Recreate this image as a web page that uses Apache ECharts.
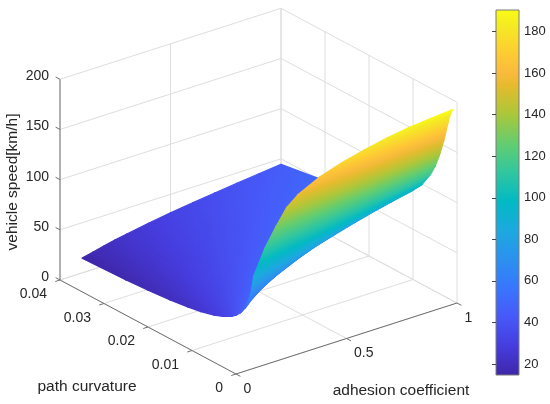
<!DOCTYPE html>
<html>
<head>
<meta charset="utf-8">
<script src="https://cdn.jsdelivr.net/npm/echarts@6/dist/echarts.min.js"></script>
<style>html,body{margin:0;padding:0;background:#fff;}#chart{width:550px;height:404px;}</style>
</head>
<body>
<div id="chart"></div>
<script>
// ---------------- data ----------------
const ADHESION = [0.1, 0.15, 0.2, 0.25, 0.3, 0.4, 0.5, 0.6, 0.7, 0.8, 0.9, 1.0];
const CURVATURE = [0.001, 0.0015, 0.002, 0.003, 0.004, 0.005, 0.006, 0.008, 0.01, 0.013, 0.016, 0.02, 0.025, 0.03, 0.04];
// vehicle speed [km/h]; one row per curvature, one column per adhesion
const SPEED = [
  [88.0, 112.0, 130.0, 146.0, 155.0, 166.0, 173.0, 178.5, 183.0, 186.5, 188.5, 190.4],
  [72.7, 91.0, 106.0, 120.0, 130.0, 146.0, 157.0, 165.5, 172.5, 177.9, 182.0, 184.8],
  [62.9, 77.8, 90.5, 101.5, 111.0, 126.5, 139.0, 149.0, 157.6, 164.9, 170.8, 175.5],
  [51.4, 62.9, 72.7, 81.2, 88.9, 102.4, 114.2, 124.4, 133.4, 141.4, 148.6, 154.8],
  [44.5, 54.5, 62.9, 70.4, 77.1, 88.9, 99.2, 108.5, 116.8, 124.4, 131.3, 137.6],
  [39.8, 48.8, 56.3, 62.9, 68.9, 79.6, 88.9, 97.3, 105.0, 112.0, 118.4, 124.4],
  [36.3, 44.5, 51.4, 57.5, 62.9, 72.7, 81.2, 88.9, 95.9, 102.4, 108.5, 114.2],
  [31.5, 38.5, 44.5, 49.8, 54.5, 62.9, 70.4, 77.1, 83.3, 88.9, 94.2, 99.2],
  [28.1, 34.5, 39.8, 44.5, 48.8, 56.3, 62.9, 68.9, 74.5, 79.6, 84.4, 88.9],
  [24.7, 30.2, 34.9, 39.0, 42.8, 49.4, 55.2, 60.5, 65.3, 69.8, 74.1, 78.1],
  [22.3, 27.3, 31.5, 35.2, 38.5, 44.5, 49.8, 54.5, 58.9, 62.9, 66.8, 70.4],
  [19.9, 24.4, 28.1, 31.5, 34.5, 39.8, 44.5, 48.8, 52.7, 56.3, 59.7, 62.9],
  [17.8, 21.8, 25.2, 28.1, 30.8, 35.6, 39.8, 43.6, 47.1, 50.4, 53.4, 56.3],
  [16.3, 19.9, 23.0, 25.7, 28.2, 32.5, 36.3, 39.8, 43.0, 46.0, 48.8, 51.4],
  [14.7, 17.2, 19.9, 22.3, 24.4, 28.1, 31.5, 34.5, 37.2, 39.8, 42.2, 44.5]
];
const ADHESION_TICKS = [0, 0.5, 1];
const CURVATURE_TICKS = [0, 0.01, 0.02, 0.03, 0.04];
const SPEED_TICKS = [0, 50, 100, 150, 200];
const COLORBAR_TICKS = [20, 40, 60, 80, 100, 120, 140, 160, 180];
const ADHESION_RANGE = [0, 1];
const CURVATURE_RANGE = [0, 0.04];
const SPEED_RANGE = [0, 200];
const COLOR_RANGE = [14.7, 190.4];
const X_TITLE = 'adhesion coefficient';
const Y_TITLE = 'path curvature';
const Z_TITLE = 'vehicle speed[km/h]';

// ---------------- style / view ----------------
const FONT = 'Liberation Sans, Arial, Helvetica, sans-serif';
const TEXT_COLOR = '#262626';
const GRID_COLOR = '#dedede';
const AXIS_COLOR = '#707070';
// orthographic view: projected unit-box edge vectors (view plane units) and depth direction
const VIEW = { ex: [221, 71], ek: [-176, 94], ez: [0, 200.7], depth: [-0.558, -0.738, 0.326] };
const PARULA = [
  [0, '#3e26a8'], [5/63, '#463cde'], [10/63, '#4758f8'], [15/63, '#3875fe'],
  [20/63, '#2b91ef'], [25/63, '#1ca9df'], [30/63, '#02bac3'], [35/63, '#31c69f'],
  [40/63, '#64cd6f'], [45/63, '#abc739'], [50/63, '#e6bb2d'], [52/63, '#f8ba3d'],
  [55/63, '#fec934'], [60/63, '#f5e924'], [1, '#f9fb15']
];

function toBox(a, k, z) {
  return [
    (a - ADHESION_RANGE[0]) / (ADHESION_RANGE[1] - ADHESION_RANGE[0]),
    (k - CURVATURE_RANGE[0]) / (CURVATURE_RANGE[1] - CURVATURE_RANGE[0]),
    (z - SPEED_RANGE[0]) / (SPEED_RANGE[1] - SPEED_RANGE[0])
  ];
}
function project(a, k, z) {
  const b = toBox(a, k, z);
  return [
    b[0] * VIEW.ex[0] + b[1] * VIEW.ek[0] + b[2] * VIEW.ez[0],
    b[0] * VIEW.ex[1] + b[1] * VIEW.ek[1] + b[2] * VIEW.ez[1]
  ];
}
function depth(a, k, z) {
  const b = toBox(a, k, z);
  return b[0] * VIEW.depth[0] + b[1] * VIEW.depth[1] + b[2] * VIEW.depth[2];
}
function hexToRgb(h) {
  return [parseInt(h.slice(1, 3), 16), parseInt(h.slice(3, 5), 16), parseInt(h.slice(5, 7), 16)];
}
const STOPS_RGB = PARULA.map(([o, h]) => [o, hexToRgb(h)]);
function colorAt(z) {
  let t = (z - COLOR_RANGE[0]) / (COLOR_RANGE[1] - COLOR_RANGE[0]);
  t = Math.max(0, Math.min(1, t));
  for (let i = 0; i < STOPS_RGB.length - 1; i++) {
    const [o0, c0] = STOPS_RGB[i], [o1, c1] = STOPS_RGB[i + 1];
    if (t <= o1) {
      const f = (t - o0) / (o1 - o0);
      return 'rgb(' + c0.map((v, j) => Math.round(v + (c1[j] - v) * f)).join(',') + ')';
    }
  }
  return PARULA[PARULA.length - 1][1];
}

// ---------------- build tables ----------------
const tris = [];
for (let r = 0; r < CURVATURE.length - 1; r++) {
  for (let c = 0; c < ADHESION.length - 1; c++) {
    const q = [[c, r], [c + 1, r], [c + 1, r + 1], [c, r + 1]].map(([ci, ri]) => ({
      a: ADHESION[ci], k: CURVATURE[ri], z: SPEED[ri][ci]
    }));
    for (const t of [[0, 1, 2], [0, 2, 3]]) {
      const v = t.map(i => q[i]);
      const item = [];
      v.forEach(p => { const uv = project(p.a, p.k, p.z); item.push(uv[0], uv[1]); });
      v.forEach(p => item.push(p.z));
      const d = v.reduce((s, p) => s + depth(p.a, p.k, p.z), 0) / 3;
      tris.push({ d, item });
    }
  }
}
tris.sort((x, y) => x.d - y.d);
const TRI_DATA = tris.map(t => t.item);

const gridSegs = [];
function seg(p, q) { const A = project(...p), B = project(...q); gridSegs.push([A[0], A[1], B[0], B[1]]); }
const kMax = CURVATURE_RANGE[1], aMax = ADHESION_RANGE[1], zMax = SPEED_RANGE[1];
SPEED_TICKS.forEach(z => { seg([0, kMax, z], [aMax, kMax, z]); seg([aMax, 0, z], [aMax, kMax, z]); });
ADHESION_TICKS.forEach(a => { seg([a, kMax, 0], [a, kMax, zMax]); seg([a, 0, 0], [a, kMax, 0]); });
CURVATURE_TICKS.forEach(k => { seg([aMax, k, 0], [aMax, k, zMax]); seg([0, k, 0], [aMax, k, 0]); });

// ---------------- chart ----------------
const chart = echarts.init(document.getElementById('chart'), null, { renderer: 'canvas' });

function lineEl(p, q, color, w) {
  return { type: 'line', shape: { x1: p[0], y1: p[1], x2: q[0], y2: q[1] }, style: { stroke: color, lineWidth: w }, silent: true };
}
function textEl(x, y, text, align, size) {
  return { type: 'text', x, y, silent: true, style: { text, fill: TEXT_COLOR, fontSize: size || 14, fontFamily: FONT, align, verticalAlign: 'middle' } };
}
function unit(p, q, len) {
  const dx = q[0] - p[0], dy = q[1] - p[1], n = Math.hypot(dx, dy) || 1;
  return [p[0] + dx / n * len, p[1] + dy / n * len];
}

const option = {
  animation: false,
  backgroundColor: '#ffffff',
  grid: [
    { left: 0, right: 0, top: 0, bottom: 0 },
    { left: 496, top: 10, width: 23, height: 365 }
  ],
  xAxis: [
    { type: 'value', gridIndex: 0, min: -236, max: 314, show: false },
    { type: 'value', gridIndex: 1, min: 0, max: 1, show: false }
  ],
  yAxis: [
    { type: 'value', gridIndex: 0, min: -30, max: 374, show: false },
    {
      type: 'value', gridIndex: 1, min: COLOR_RANGE[0], max: COLOR_RANGE[1], position: 'right', z: 10,
      axisLine: { show: false },
      splitLine: { show: false },
      axisTick: { show: true, inside: true, length: 4, customValues: COLORBAR_TICKS, lineStyle: { color: '#444', width: 1 } },
      axisLabel: { customValues: COLORBAR_TICKS, margin: 5, fontSize: 13, color: TEXT_COLOR, fontFamily: FONT }
    }
  ],
  series: [
    {
      type: 'custom', xAxisIndex: 0, yAxisIndex: 0, z: 1, silent: true,
      data: gridSegs,
      renderItem: (params, api) => lineEl(api.coord([api.value(0), api.value(1)]), api.coord([api.value(2), api.value(3)]), GRID_COLOR, 1)
    },
    {
      type: 'custom', xAxisIndex: 0, yAxisIndex: 0, z: 2, silent: true,
      data: TRI_DATA,
      renderItem: (params, api) => {
        const P = [0, 1, 2].map(i => api.coord([api.value(2 * i), api.value(2 * i + 1)]));
        const Z = [api.value(6), api.value(7), api.value(8)];
        const zmin = Math.min(...Z), zmax = Math.max(...Z);
        const d1 = [P[1][0] - P[0][0], P[1][1] - P[0][1]];
        const d2 = [P[2][0] - P[0][0], P[2][1] - P[0][1]];
        const det = d1[0] * d2[1] - d1[1] * d2[0];
        let fill;
        if (Math.abs(det) < 0.5 || zmax - zmin < 0.2) {
          fill = colorAt((Z[0] + Z[1] + Z[2]) / 3);
        } else {
          const dz1 = Z[1] - Z[0], dz2 = Z[2] - Z[0];
          const gx = (d2[1] * dz1 - d1[1] * dz2) / det;
          const gy = (-d2[0] * dz1 + d1[0] * dz2) / det;
          const g2 = gx * gx + gy * gy;
          const S = P[Z.indexOf(zmin)];
          const L = (zmax - zmin) / g2;
          const E = [S[0] + gx * L, S[1] + gy * L];
          const stops = [0, 0.2, 0.4, 0.6, 0.8, 1].map(o => ({ offset: o, color: colorAt(zmin + o * (zmax - zmin)) }));
          fill = new echarts.graphic.LinearGradient(S[0], S[1], E[0], E[1], stops, true);
        }
        return { type: 'polygon', shape: { points: P }, style: { fill: fill, stroke: fill, lineWidth: 1.2, lineJoin: 'round' }, silent: true };
      }
    },
    {
      type: 'custom', xAxisIndex: 0, yAxisIndex: 0, z: 3, silent: true,
      data: [[0]],
      renderItem: (params, api) => {
        const C = (a, k, z) => api.coord(project(a, k, z));
        const ch = [];
        // axis lines
        ch.push(lineEl(C(0, kMax, 0), C(0, kMax, zMax), AXIS_COLOR, 1));
        ch.push(lineEl(C(0, 0, 0), C(0, kMax, 0), AXIS_COLOR, 1));
        ch.push(lineEl(C(0, 0, 0), C(aMax, 0, 0), AXIS_COLOR, 1));
        // z ticks + labels
        SPEED_TICKS.forEach(z => {
          const p = C(0, kMax, z), q = unit(p, C(0, kMax * 1.1, z), 5);
          ch.push(lineEl(p, q, AXIS_COLOR, 1));
          ch.push(textEl(p[0] - 11, p[1] - 3, String(z), 'right'));
        });
        // curvature ticks + labels
        CURVATURE_TICKS.forEach(k => {
          const p = C(0, k, 0), q = unit(p, C(-0.1, k, 0), 5);
          ch.push(lineEl(p, q, AXIS_COLOR, 1));
          ch.push(textEl(p[0] - 13, p[1] + 14.5, String(k), 'right'));
        });
        // adhesion ticks + labels
        ADHESION_TICKS.forEach(a => {
          const p = C(a, 0, 0), q = unit(p, C(a, -kMax * 0.1, 0), 5);
          ch.push(lineEl(p, q, AXIS_COLOR, 1));
          ch.push(textEl(p[0] + 7.5, p[1] + 15, String(a), 'left'));
        });
        return { type: 'group', children: ch };
      }
    },
    {
      type: 'custom', xAxisIndex: 1, yAxisIndex: 1, z: 1, silent: true,
      data: [[0]],
      renderItem: (params, api) => {
        const tl = api.coord([0, COLOR_RANGE[1]]), br = api.coord([1, COLOR_RANGE[0]]);
        return {
          type: 'rect',
          shape: { x: tl[0], y: tl[1], width: br[0] - tl[0], height: br[1] - tl[1] },
          style: {
            fill: { type: 'linear', x: 0, y: 1, x2: 0, y2: 0, colorStops: PARULA.map(([o, c]) => ({ offset: o, color: c })) },
            stroke: '#7a7a7a', lineWidth: 1
          }
        };
      }
    }
  ],
  graphic: [
    { type: 'text', x: 13, y: 182, rotation: Math.PI / 2, silent: true,
      style: { text: Z_TITLE, fill: TEXT_COLOR, fontSize: 15.5, fontFamily: FONT, align: 'center', verticalAlign: 'middle' } },
    { type: 'text', x: 87, y: 387, silent: true,
      style: { text: Y_TITLE, fill: TEXT_COLOR, fontSize: 15.5, fontFamily: FONT, align: 'center', verticalAlign: 'middle' } },
    { type: 'text', x: 401, y: 391, silent: true,
      style: { text: X_TITLE, fill: TEXT_COLOR, fontSize: 15.5, fontFamily: FONT, align: 'center', verticalAlign: 'middle' } }
  ]
};
chart.setOption(option);
</script>
</body>
</html>
